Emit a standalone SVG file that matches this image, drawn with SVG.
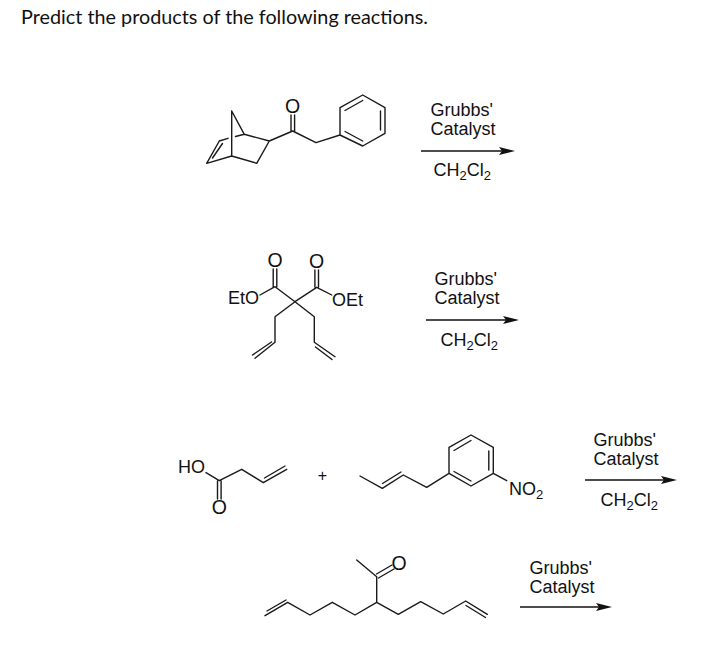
<svg xmlns="http://www.w3.org/2000/svg" width="715" height="648" viewBox="0 0 715 648">
<style>
text{font-family:"Liberation Sans",Arial,sans-serif;font-size:18px;fill:#111}
.title{font-family:Lato,"Open Sans",sans-serif;font-size:20px;fill:#111}
.b{fill:none;stroke:#1a1a1a;stroke-width:1.4;stroke-linecap:round;stroke-linejoin:round}
.a{stroke:#111;stroke-width:1.4;fill:none}
.h{fill:#111;stroke:none}
.s{font-size:13px}
.o{font-size:19.5px;text-anchor:middle}
</style>
<defs>
<path id="head" class="h" d="M0 0L-16 -4L-13 0L-16 4Z"/>
</defs>
<rect width="715" height="648" fill="#fff"/>
<text class="title" x="21" y="24" textLength="407" lengthAdjust="spacingAndGlyphs">Predict the products of the following reactions.</text>
<g id="molecule-1">
<path class="b" d="M231.7 111V156M231.7 111L244.3 134.3L269.3 141L256.7 163.3L231.7 156L206.7 163.3L219.3 141L228 138.3M235.5 136.5L244.3 134.3M212.5 158L222.5 143.5M269.3 141L292.7 131L316 142.7L340 135V107.7L362.7 95L385 107.7V133.3L362.7 146L340 135M345 110.5L362.7 100.5M380.5 111V130M362.7 141L345 131.5M291 131V115M294.6 131V115"/>
<text class="o" x="292.7" y="112.5">O</text>
</g>
<g id="molecule-2">
<path class="b" d="M295 301.7L275 286.7L260 295M295 301.7L316.7 287.3L331.7 295M273.2 287V269M276.8 287V269M314.9 287V270M318.5 287V270M295 301.7L275 316.7V342.3L255 358.3M271.5 342L252.5 355M295 301.7L314.3 316.7V342.3L335 356.7M315.5 347L332 359.5"/>
<text class="o" x="275" y="267">O</text>
<text class="o" x="316.7" y="267.5">O</text>
<text x="228" y="304">EtO</text>
<text x="332" y="306">OEt</text>
</g>
<g id="molecule-3">
<path class="b" d="M206 472.7L219.3 480.7L241.7 469.3L263.3 482.7L286.7 469.3M264.5 478L285 466M217.5 481V499M221.1 481V499"/>
<text x="178" y="473">HO</text>
<text class="o" x="219.3" y="513.5">O</text>
</g>
<text id="plus" x="322.3" y="481" text-anchor="middle" style="font-size:16px">+</text>
<g id="molecule-4">
<path class="b" d="M360 476L382.3 488.3L403.3 475L426.7 487.3L449 473.3V447.3L471 435L493.3 447.3V473.3L471 486L449 473.3M382.5 483.5L401 472M454 450.5L471 440.5M488.8 451V470M471 481L454 471.5M493.3 473.3L506.7 480.7"/>
<text x="509" y="495">NO<tspan class="s" dy="4">2</tspan></text>
</g>
<g id="molecule-5">
<path class="b" d="M265 615.7L287.7 602.3L310 615L332.3 602.3L355 615L376.7 602.3L398.3 614.3L420.7 601.7L443.3 614L465.7 601L487.3 614.3M267 611L286 600M466 605.5L485.5 617.5M376.7 602.3V576.7L356.7 560M376.5 574L392 565M378.5 578L394 569"/>
<text class="o" x="399" y="570">O</text>
</g>
<g id="connectors">
<path class="a" d="M421 151H503"/><use href="#head" transform="translate(515 151)"/>
<path class="a" d="M426 320H507"/><use href="#head" transform="translate(519 320)"/>
<path class="a" d="M585 480H665"/><use href="#head" transform="translate(677 480)"/>
<path class="a" d="M520 607H600"/><use href="#head" transform="translate(612 607)"/>
</g>
<g id="label-1"><text x="430.5" y="115.5">Grubbs'</text><text x="430.5" y="134.5">Catalyst</text><text x="433.5" y="176">CH<tspan class="s" dy="4">2</tspan><tspan dy="-4">Cl</tspan><tspan class="s" dy="4">2</tspan></text></g>
<g id="label-2"><text x="434.5" y="285">Grubbs'</text><text x="434.5" y="304">Catalyst</text><text x="440.5" y="346">CH<tspan class="s" dy="4">2</tspan><tspan dy="-4">Cl</tspan><tspan class="s" dy="4">2</tspan></text></g>
<g id="label-3"><text x="593.5" y="445.5">Grubbs'</text><text x="593.5" y="464.5">Catalyst</text><text x="600.5" y="506">CH<tspan class="s" dy="4">2</tspan><tspan dy="-4">Cl</tspan><tspan class="s" dy="4">2</tspan></text></g>
<g id="label-4"><text x="529.5" y="573.5">Grubbs'</text><text x="529.5" y="592.5">Catalyst</text></g>
</svg>
